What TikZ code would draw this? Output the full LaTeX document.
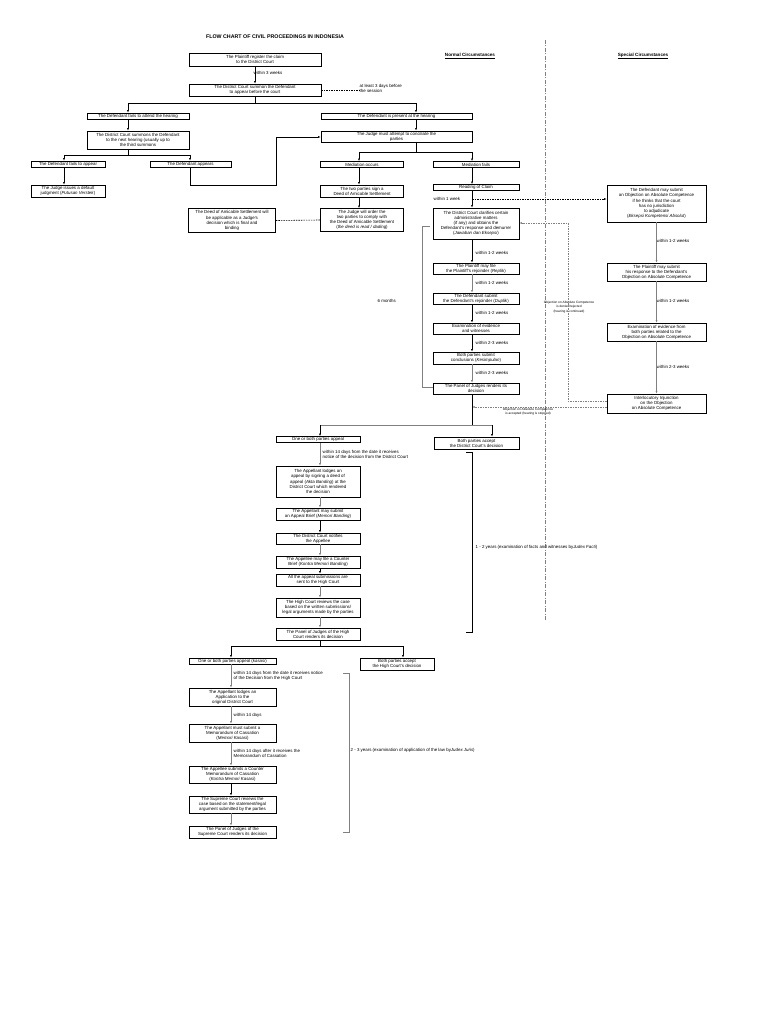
\documentclass[tikz,border=0pt]{standalone}
\usepackage{fontspec}
\setmainfont{Liberation Sans}
\usetikzlibrary{arrows.meta}
\begin{document}
\begin{tikzpicture}[x=1pt,y=-1pt,
  box/.style={draw,line width=0.8pt,align=center,inner sep=0.3pt,font=\fontsize{4.4}{5.1}\selectfont},
  lbl/.style={align=left,anchor=west,inner sep=0.5pt,font=\fontsize{4.4}{5.1}\selectfont},
  arr/.style={-{Latex[length=2.5pt,width=2pt]},line width=0.6pt},
  ln/.style={line width=0.6pt},
  dsh/.style={dashed,line width=0.6pt,dash pattern=on 1.5pt off 1pt},
  gr/.style={ln,gray}]
\useasboundingbox (0,0) rectangle (768,1024);
\fill[white] (0,0) rectangle (768,1024);
\node[font=\bfseries\fontsize{5.3}{6}\selectfont] (title) at (275,37) {FLOW CHART OF CIVIL PROCEEDINGS IN INDONESIA};
\node[font=\bfseries\fontsize{4.6}{5}\selectfont] (nc) at (470,56) {\underline{Normal Circumstances}};
\node[font=\bfseries\fontsize{4.6}{5}\selectfont] (sc) at (643,56) {\underline{Special Circumstances}};
\draw[gray,line width=0.5pt,dash pattern=on 4pt off 1.5pt on 1pt off 1.5pt] (545,40) -- (545,620);

\node[box,minimum width=132,minimum height=13] (B1) at (255,59.5) {The Plaintiff register the claim\\to the District Court};
\node[box,minimum width=132,minimum height=12] (B2) at (255,90) {The District Court summon the Defendant\\to appear before the court};
\node[box,minimum width=102,minimum height=6] (B3) at (138,116) {The Defendant fails to attend the hearing};
\node[box,minimum width=102,minimum height=18] (B4) at (138,140) {The District Court summons the Defendant\\to the next hearing (usually up to\\the third summons};
\node[box,minimum width=74,minimum height=6] (B5) at (68,164) {The Defendant fails to appear};
\node[box,minimum width=81,minimum height=6] (B6) at (190.5,164) {The Defendant appears};
\node[box,minimum width=74,minimum height=12] (B7) at (68,191) {The Judge issues a default\\judgment (\textit{Putusan Verstek})};
\node[box,minimum width=151,minimum height=6] (B8) at (396.5,116) {The Defendant is present at the hearing};
\node[box,minimum width=151,minimum height=11] (B9) at (396.5,136.5) {The Judge must attempt to conciliate the\\parties};
\node[box,minimum width=83,minimum height=6] (B10) at (362,164.5) {Mediation occurs};
\node[box,minimum width=86,minimum height=6] (B11) at (476,164.5) {Mediation fails};
\node[box,minimum width=83,minimum height=12] (B12) at (362,191) {The two parties sign a\\Deed of Amicable Settlement};
\node[box,minimum width=83,minimum height=23] (B13) at (362,220) {The Judge will order the\\two parties to comply with\\the Deed of Amicable Settlement\\(\textit{the deed is read / dading})};
\node[box,minimum width=87,minimum height=24] (B14) at (232,220.5) {The Deed of Amicable Settlement will\\be applicable as a Judge's\\decision which is final and\\binding};
\node[box,minimum width=86,minimum height=6] (B15) at (476,187.5) {Reading of Claim};
\node[box,minimum width=86,minimum height=31] (B16) at (476,223.5) {The District Court clarifies certain\\administrative matters\\(if any) and obtains the\\Defendant's response and demurrer\\(\textit{Jawaban dan Eksepsi})};
\node[box,minimum width=86,minimum height=11] (B17) at (476,268.5) {The Plaintiff may file\\the Plaintiff's rejoinder (\textit{Replik})};
\node[box,minimum width=86,minimum height=11] (B18) at (476,298.5) {The Defendant submit\\the Defendant's rejoinder (\textit{Duplik})};
\node[box,minimum width=86,minimum height=11] (B19) at (476,328.5) {Examination of evidence\\and witnesses};
\node[box,minimum width=86,minimum height=12] (B20) at (476,358) {Both parties submit\\conclusions (\textit{Kesimpulan})};
\node[box,minimum width=86,minimum height=11] (B21) at (476,388.5) {The Panel of Judges renders its\\decision};

\node[box,minimum width=99,minimum height=37] (S1) at (656.5,203.5) {The Defendant may submit\\an Objection on Absolute Competence\\if he thinks that the court\\has no jurisdiction\\to adjudicate\\(\textit{Eksepsi Kompetensi Absolut})};
\node[box,minimum width=99,minimum height=18] (S2) at (656.5,272) {The Plaintiff may submit\\his response to the Defendant's\\Objection on Absolute Competence};
\node[box,minimum width=99,minimum height=18] (S3) at (656.5,332) {Examination of evidence from\\both parties related to the\\Objection on Absolute Competence};
\node[box,minimum width=99,minimum height=19] (S4) at (656.5,403.5) {Interlocutory Injunction\\on the Objection\\on Absolute Competence};

\node[box,minimum width=84,minimum height=6] (A1) at (318,439.5) {One or both parties appeal};
\node[box,minimum width=85,minimum height=12] (Acc1) at (476.5,443) {Both parties accept\\the District Court's decision};
\node[box,minimum width=84,minimum height=31] (A2) at (318,481.5) {The Appellant lodges an\\appeal by signing a deed of\\appeal (\textit{Akta Banding}) at the\\District Court which rendered\\the decision};
\node[box,minimum width=84,minimum height=12] (A3) at (318,514) {The Appellant may submit\\an Appeal Brief (\textit{Memori Banding})};
\node[box,minimum width=84,minimum height=11] (A4) at (318,538.5) {The District Court notifies\\the Appellee};
\node[box,minimum width=84,minimum height=12] (A5) at (318,562) {The Appellee may file a Counter\\Brief (\textit{Kontra Memori Banding})};
\node[box,minimum width=84,minimum height=12] (A6) at (318,580) {All the appeal submissions are\\sent to the High Court};
\node[box,minimum width=84,minimum height=19] (A7) at (318,607.5) {The High Court reviews the case\\based on the written submissions/\\legal arguments made by the parties};
\node[box,minimum width=84,minimum height=12] (A8) at (318,634) {The Panel of Judges of the High\\Court renders its decision};

\node[box,minimum width=87,minimum height=6] (C1) at (232.5,661) {One or both parties appeal (\textit{kasasi})};
\node[box,minimum width=74,minimum height=12] (Cacc) at (397,664) {Both parties accept\\the High Court's decision};
\node[box,minimum width=87,minimum height=18] (C2) at (232.5,697) {The Appellant lodges an\\Application to the\\original District Court};
\node[box,minimum width=87,minimum height=18] (C3) at (232.5,733) {The Appellant must submit a\\Memorandum of Cassation\\(\textit{Memori Kasasi})};
\node[box,minimum width=87,minimum height=17] (C4) at (232.5,774.5) {The Appellee submits a Counter\\Memorandum of Cassation\\(\textit{Kontra Memori Kasasi})};
\node[box,minimum width=87,minimum height=17] (C5) at (232.5,804.5) {The Supreme Court reviews the\\case based on the statement/legal\\argument submitted by the parties};
\node[box,minimum width=87,minimum height=12] (C6) at (232.5,832) {The Panel of Judges of the\\Supreme Court renders its decision};

% labels
\node[lbl] (l1) at (253,73) {within 3 weeks};
\node[lbl] (l2) at (359,88) {at least 3 days before\\the session};
\node[lbl] (l3) at (433,199) {within 1 week};
\node[lbl] (l4) at (475,253) {within 1-2 weeks};
\node[lbl] (l5) at (475,283) {within 1-2 weeks};
\node[lbl] (l6) at (475,313) {within 1-2 weeks};
\node[lbl] (l7) at (475,343) {within 2-3 weeks};
\node[lbl] (l8) at (475,373) {within 2-3 weeks};
\node[lbl] (l9) at (377,301) {6 months};
\node[lbl] (l10) at (656,241) {within 1-2 weeks};
\node[lbl] (l11) at (656,301) {within 1-2 weeks};
\node[lbl] (l12) at (656,367) {within 2-3 weeks};
\node[align=center,inner sep=0,font=\fontsize{3.2}{4.2}\selectfont] (l13) at (569,307) {Objection on Absolute Competence\\is denied/rejected\\(hearing is continued)};
\node[align=center,inner sep=0,font=\fontsize{3.2}{4.2}\selectfont] (l14) at (528,412) {Objection on Absolute Competence\\is accepted (hearing is stopped)};
\node[lbl] (l15) at (322,454.5) {within 14 days from the date it receives\\notice of the decision from the District Court};
\node[lbl] (l16) at (475,547) {1 - 2 years (examination of facts and witnesses by\textit{Judex Facti})};
\node[lbl] (l17) at (233,676) {within 14 days from the date it receives notice\\of the Decision from the High Court};
\node[lbl] (l18) at (233,715) {within 14 days};
\node[lbl] (l19) at (233,753.5) {within 14 days after it receives the\\Memorandum of Cassation};
\node[lbl] (l20) at (350,750) {2 - 3 years (examination of application of the law by\textit{Judex Juris})};

% connectors top
\draw[arr] (B1) -- (B2);
\draw[ln] (B2.south) -- (255,103) coordinate (j1);
\draw[ln] (128,103) -- (416,103);
\draw[arr] (128,103) -- (B3.north -| 128,0);
\draw[arr] (416,103) -- (B8.north -| 416,0);
\draw[dsh] (B2.east) -- (l2.west |- B2.east);
\draw[arr] (B3.south -| 128,0) -- (B4.north -| 128,0);
\draw[ln] (B4.south -| 128,0) -- (128,155);
\draw[ln] (64,155) -- (190,155);
\draw[arr] (64,155) -- (B5.north -| 64,0);
\draw[arr] (190,155) -- (B6.north -| 190,0);
\draw[arr] (B5.south -| 64,0) -- (B7.north -| 64,0);
\draw[arr] (B6.south -| 190,0) -- (190,185) -- (276,185) -- (276,137) -- (B9.west |- 0,137);
\draw[arr] (B8.south -| 416,0) -- (B9.north -| 416,0);
\draw[ln] (B9.south -| 416,0) -- (416,152);
\draw[ln] (359,152) -- (472,152);
\draw[arr] (359,152) -- (B10.north -| 359,0);
\draw[arr] (472,152) -- (B11.north -| 472,0);
\draw[arr] (B10.south -| 359,0) -- (B12.north -| 359,0);
\draw[arr] (B12.south -| 359,0) -- (B13.north -| 359,0);
\draw[dsh] (B14.east) -- (B13.west);
\draw[arr] (B11.south -| 472,0) -- (B15.north -| 472,0);
\draw[arr] (B15.south -| 472,0) -- (B16.north -| 472,0);
\draw[dsh,-{Latex[length=2.5pt,width=2pt]}] (472,199) -- (S1.west |- 0,199);
\draw[arr] (B16.south -| 472,0) -- (B17.north -| 472,0);
\draw[arr,gray] (B17.south -| 472,0) -- (B18.north -| 472,0);
\draw[arr] (B18.south -| 472,0) -- (B19.north -| 472,0);
\draw[arr] (B19.south -| 472,0) -- (B20.north -| 472,0);
\draw[arr,gray] (B20.south -| 472,0) -- (B21.north -| 472,0);
\draw[gr] (430,226) -- (422,226) -- (422,387) -- (B21.west |- 0,387);
\draw[arr,gray] (S1) -- (S2);
\draw[arr,gray] (S2) -- (S3);
\draw[arr,gray] (S3) -- (S4);
\draw[dsh,gray,-{Latex[length=2.5pt,width=2pt]}] (S4.west |- 0,401) -- (568,401) -- (568,223) -- (B16.east |- 0,223);
\draw[dsh,gray,-{Latex[length=2.5pt,width=2pt]}] (S4.west |- 0,407) -- (472,407);
% appeal
\draw[ln] (B21.south -| 472,0) -- (472,425);
\draw[gr] (320,425) -- (492,425);
\draw[arr] (320,425) -- (A1.north -| 320,0);
\draw[arr] (492,425) -- (Acc1.north -| 492,0);
\draw[arr,gray] (A1.south -| 320,0) -- (A2.north -| 320,0);
\draw[arr,gray] (A2.south -| 320,0) -- (A3.north -| 320,0);
\draw[arr] (A3.south -| 320,0) -- (A4.north -| 320,0);
\draw[arr,gray] (A4.south -| 320,0) -- (A5.north -| 320,0);
\draw[arr] (A5.south -| 320,0) -- (A6.north -| 320,0);
\draw[arr,gray] (A6.south -| 320,0) -- (A7.north -| 320,0);
\draw[arr,gray] (A7.south -| 320,0) -- (A8.north -| 320,0);
\draw[line width=0.8pt] (466,452) -- (472,452) -- (472,632) -- (466,632);
% cassation
\draw[ln] (A8.south -| 320,0) -- (320,646);
\draw[ln] (231,646) -- (403,646);
\draw[arr] (231,646) -- (C1.north -| 231,0);
\draw[arr] (403,646) -- (Cacc.north -| 403,0);
\draw[arr,gray] (C1.south -| 231,0) -- (C2.north -| 231,0);
\draw[arr,gray] (C2.south -| 231,0) -- (C3.north -| 231,0);
\draw[arr,gray] (C3.south -| 231,0) -- (C4.north -| 231,0);
\draw[arr] (C4.south -| 231,0) -- (C5.north -| 231,0);
\draw[arr,gray] (C5.south -| 231,0) -- (C6.north -| 231,0);
\draw[gr] (343,673) -- (349,673) -- (349,832) -- (343,832);
\end{tikzpicture}
\end{document}
